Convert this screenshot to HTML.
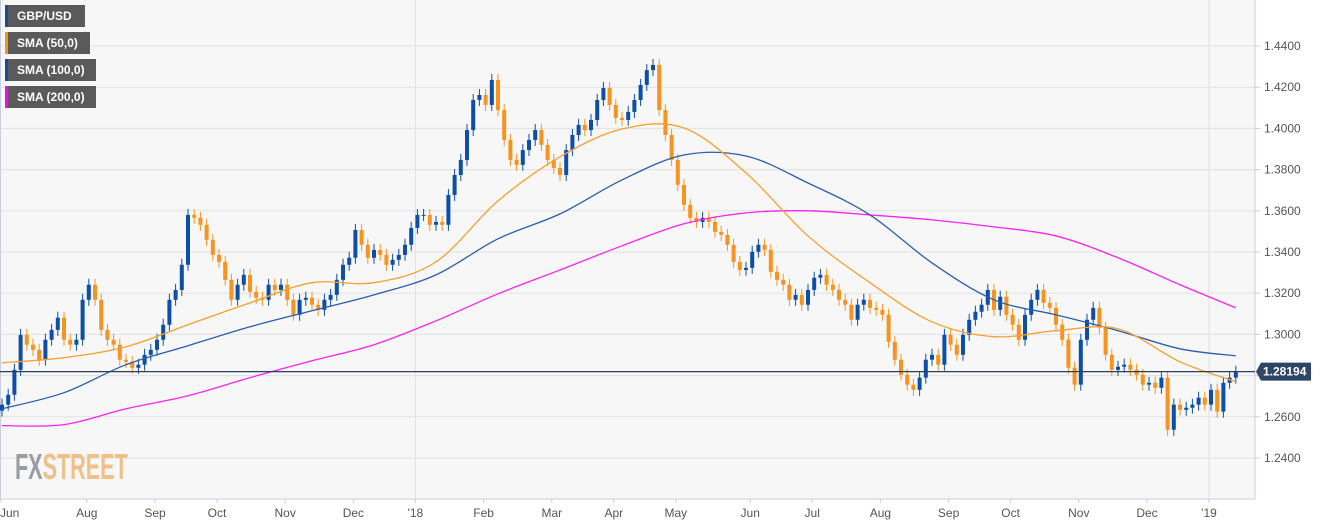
<!DOCTYPE html>
<html><head><meta charset="utf-8">
<style>
html,body{margin:0;padding:0;background:#fff;width:1326px;height:525px;overflow:hidden;font-family:"Liberation Sans",sans-serif;}
#wrap{position:relative;width:1326px;height:525px;}
.leg{position:absolute;left:5px;height:22px;background:#5a5a5a;color:#fff;font-size:12px;font-weight:bold;line-height:22px;padding-left:12px;box-sizing:border-box;}
.leg i{position:absolute;left:0;top:0;width:3px;height:22px;}
</style></head><body>
<div id="wrap">
<svg id="svg" width="1326" height="525"></svg>
<div class="leg" style="top:5px;width:80px"><i style="background:#0d4fa8"></i>GBP/USD</div>
<div class="leg" style="top:32px;width:85px"><i style="background:#f7931e"></i>SMA (50,0)</div>
<div class="leg" style="top:59px;width:91px"><i style="background:#0d4fa8"></i>SMA (100,0)</div>
<div class="leg" style="top:86px;width:91px"><i style="background:#ff00ff"></i>SMA (200,0)</div>
</div>
<script>
const closes=[1.2659,1.2707,1.2828,1.2998,1.2950,1.2925,1.2877,1.2974,1.3022,1.3081,
1.2974,1.2950,1.2974,1.3168,1.3241,1.3168,1.3022,1.2974,1.2950,1.2877,
1.2867,1.2838,1.2853,1.2901,1.2925,1.2974,1.3047,1.3168,1.3216,1.3338,
1.3580,1.3566,1.3532,1.3459,1.3386,1.3352,1.3265,1.3168,1.3241,1.3289,
1.3207,1.3178,1.3168,1.3241,1.3216,1.3241,1.3168,1.3095,1.3168,1.3178,
1.3144,1.3119,1.3168,1.3192,1.3265,1.3338,1.3372,1.3507,1.3435,1.3372,
1.3410,1.3386,1.3338,1.3362,1.3386,1.3435,1.3517,1.3580,1.3580,1.3532,
1.3546,1.3532,1.3677,1.3774,1.3847,1.3992,1.4138,1.4162,1.4114,1.4235,
1.4089,1.3944,1.3847,1.3823,1.3895,1.3944,1.3992,1.3920,1.3847,1.3808,
1.3774,1.3895,1.3968,1.4017,1.3992,1.4041,1.4138,1.4196,1.4114,1.4051,
1.4041,1.4080,1.4138,1.4211,1.4283,1.4308,1.4089,1.3968,1.3847,1.3726,
1.3629,1.3566,1.3546,1.3566,1.3546,1.3498,1.3483,1.3435,1.3352,1.3313,
1.3323,1.3401,1.3435,1.3410,1.3304,1.3265,1.3241,1.3168,1.3192,1.3144,
1.3216,1.3275,1.3289,1.3241,1.3216,1.3168,1.3144,1.3071,1.3144,1.3168,
1.3129,1.3119,1.3095,1.2964,1.2877,1.2804,1.2756,1.2731,1.2790,1.2877,
1.2901,1.2853,1.2998,1.2950,1.2901,1.2998,1.3071,1.3110,1.3144,1.3216,
1.3119,1.3183,1.3095,1.3047,1.2974,1.3095,1.3168,1.3216,1.3153,1.3129,
1.3047,1.2974,1.2838,1.2756,1.2974,1.3071,1.3129,1.3032,1.2901,1.2828,
1.2843,1.2853,1.2828,1.2804,1.2756,1.2765,1.2741,1.2790,1.2537,1.2659,
1.2634,1.2644,1.2659,1.2693,1.2659,1.2731,1.2625,1.2765,1.2790,1.2819];
const smaIdx=[0,10,20,30,40,50,60,70,80,90,100,110,120,130,140,150,160,170,180,190,199];
const sma50=[1.2862,1.2887,1.2940,1.3047,1.3153,1.3251,1.3251,1.3352,1.3648,1.3862,1.3997,1.4002,1.3784,1.3478,1.3251,1.3061,1.2989,1.3018,1.3027,1.2867,1.2770];
const sma100=[1.2639,1.2717,1.2853,1.2945,1.3037,1.3115,1.3192,1.3289,1.3464,1.3585,1.3750,1.3871,1.3866,1.3735,1.3580,1.3347,1.3168,1.3095,1.3018,1.2930,1.2896];
const sma200=[1.2557,1.2562,1.2639,1.2702,1.2790,1.2872,1.2950,1.3066,1.3197,1.3313,1.3430,1.3537,1.3590,1.3600,1.3580,1.3556,1.3522,1.3478,1.3372,1.3241,1.3129];
const yTicks=[1.24,1.26,1.28,1.30,1.32,1.34,1.36,1.38,1.40,1.42,1.44];
const monthLabels=["Jun","Aug","Sep","Oct","Nov","Dec","'18","Feb","Mar","Apr","May","Jun","Jul","Aug","Sep","Oct","Nov","Dec","'19"];
const monthIdx=[0,14,25,35,46,57,67,78,89,99,109,121,131,142,153,163,174,185,195];
const lastPrice=1.28194;

const NS="http://www.w3.org/2000/svg";
const svg=document.getElementById('svg');
const PL=0,PR=1255,PT=0,PB=499;
const y=p=>46+(1.44-p)*2060;
const x=i=>2+i*6.2;
function el(t,a,parent){const e=document.createElementNS(NS,t);for(const k in a)e.setAttribute(k,a[k]);(parent||svg).appendChild(e);return e;}
const bg=el('rect',{x:PL,y:PT,width:PR-PL,height:PB-PT,fill:'#f7f7f7'});


yTicks.forEach(t=>{
  const g=el('line',{x1:PL,x2:PR,y1:y(t),y2:y(t),stroke:'#e2e2e2','stroke-width':1});
  
  
  el('line',{x1:PR,x2:PR+5,y1:y(t),y2:y(t),stroke:'#c8cde0'});
  const tx=el('text',{x:PR+9,y:y(t)+4,'font-size':12,fill:'#555','font-family':'Liberation Sans, sans-serif'});
  tx.textContent=t.toFixed(4);
  
  
});
[6,18].forEach(k=>{const v=el('line',{x1:x(monthIdx[k])-2,x2:x(monthIdx[k])-2,y1:PT,y2:PB,stroke:'#e2e2e2'});
  
  });
el('line',{x1:PR,x2:PR,y1:PT,y2:PB,stroke:'#c8cde0'});
el('line',{x1:PL,x2:PR,y1:PB,y2:PB,stroke:'#c8cde0'});
el('line',{x1:0.5,x2:0.5,y1:PT,y2:PB,stroke:'#c8cde0'});
monthLabels.forEach((m,k)=>{
  const xx=k===0?1:x(monthIdx[k])-2;
  el('line',{x1:xx,x2:xx,y1:PB,y2:PB+4,stroke:'#c8cde0'});
  const tx=el('text',{x:k===0?0:xx,y:517,'font-size':12,fill:'#555','text-anchor':k===0?'start':'middle','font-family':'Liberation Sans, sans-serif'});
  tx.textContent=m;
  
  
});
// watermark
const wm=el('text',{x:15,y:479,'font-size':36,'font-weight':'bold','font-family':'Liberation Sans Narrow, Liberation Sans, sans-serif',transform:'translate(15,479) scale(0.6,1) translate(-15,-479)'});


const t1=el('tspan',{fill:'#9a9ca3'},wm);t1.textContent='FX';
const t2=el('tspan',{fill:'#f0c08a'},wm);t2.textContent='STREET';
// candles
closes.forEach((c,i)=>{
  const o=i===0?1.2630:closes[i-1];
  const up=c>=o;const col=up?'#0d4fa8':'#f7931e';
  const top=Math.min(y(o),y(c)),bot=Math.max(y(o),y(c));
  const w=el('line',{x1:x(i),x2:x(i),y1:top-6,y2:bot+6,stroke:col,'stroke-width':1});
  
  
  const b=el('rect',{x:x(i)-2,y:top,width:4,height:Math.max(1,bot-top),fill:col});
  
  
});
function smooth(vals,color,name){
  const pts=vals.map((v,k)=>[x(smaIdx[k]),y(v)]);
  let d='M'+pts[0][0]+','+pts[0][1];
  for(let k=0;k<pts.length-1;k++){
    const p0=pts[k-1]||pts[k],p1=pts[k],p2=pts[k+1],p3=pts[k+2]||p2;
    d+=' C'+(p1[0]+(p2[0]-p0[0])/6)+','+(p1[1]+(p2[1]-p0[1])/6)+' '+(p2[0]-(p3[0]-p1[0])/6)+','+(p2[1]-(p3[1]-p1[1])/6)+' '+p2[0]+','+p2[1];
  }
  const p=el('path',{d:d,fill:'none',stroke:color,'stroke-width':1.3});
  
  
}
smooth(sma200,'#ff22ee','sma-200-line');
smooth(sma100,'#2a5db0','sma-100-line');
smooth(sma50,'#f7a030','sma-50-line');
const hl=el('line',{x1:PL,x2:PR,y1:y(lastPrice),y2:y(lastPrice),stroke:'#2a3f5f','stroke-width':1.2});


const tag=el('path',{d:`M${PR+1},${y(lastPrice)} L${PR+6},${y(lastPrice)-9} L${PR+56},${y(lastPrice)-9} L${PR+56},${y(lastPrice)+9} L${PR+6},${y(lastPrice)+9} Z`,fill:'#2d4566'});


const lt=el('text',{x:PR+8,y:y(lastPrice)+4,'font-size':12,'font-weight':'bold',fill:'#fff','font-family':'Liberation Sans, sans-serif'});
lt.textContent=lastPrice.toFixed(5);


</script>
</body></html>
